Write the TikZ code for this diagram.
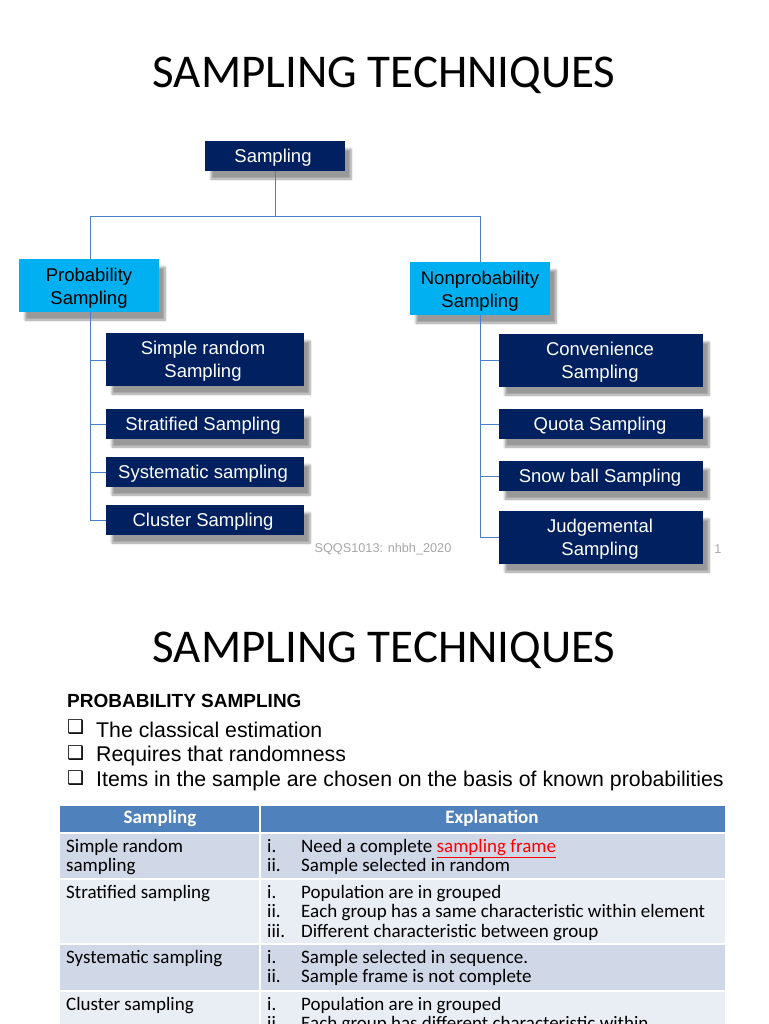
\documentclass[tikz,border=0pt]{standalone}
\usepackage{fontspec}
\setmainfont{Liberation Sans}
\newfontfamily\calfont{Carlito}
\newfontfamily\djfont{DejaVu Sans}
\usetikzlibrary{shadows.blur}
\definecolor{navy}{HTML}{002060}
\definecolor{cyanb}{HTML}{00B0F0}
\definecolor{lnk}{HTML}{4A7EC9}
\definecolor{hdr}{HTML}{4F81BD}
\definecolor{rowa}{HTML}{D0D8E8}
\definecolor{rowb}{HTML}{E9EDF4}
\tikzset{
 bx/.style={fill=navy,blur shadow={shadow xshift=6pt,shadow yshift=-8pt,shadow blur steps=8}},
 pbx/.style={bx,fill=cyanb},
 ln/.style={draw=lnk,line width=0.8pt},
 btxt/.style={align=center,font=\fontsize{18.5}{23}\selectfont,yshift=-2pt},
 cell/.style={font=\calfont\fontsize{19}{19.5}\selectfont,anchor=north west,align=left,inner sep=0pt,yshift=-3pt},
}
\begin{document}
\begin{tikzpicture}[x=1pt,y=-1pt]
\useasboundingbox (0,0) rectangle (768,1024);
\node[font=\calfont\fontsize{47}{47}\selectfont] (t1) at (384,75) {SAMPLING TECHNIQUES};
% boxes
\path[bx] (205,141) rectangle (345,171); \node[btxt,text=white] (s) at (273,156) {Sampling};
\path[pbx] (19,259) rectangle (159,312); \node[btxt] (p) at (89,286) {Probability\\Sampling};
\path[pbx] (410,262) rectangle (550,315); \node[btxt] (n) at (480,289) {Nonprobability\\Sampling};
\foreach \nm/\ya/\yb/\tx in {a/333/386/{Simple random\\Sampling},b/409/439/{Stratified Sampling},c/457/487/{Systematic sampling},d/505/535/{Cluster Sampling}}{
 \path[bx] (106,\ya) rectangle (304,\yb);
 \node[btxt,text=white] (\nm) at (203,{(\ya+\yb)/2}) {\tx};
}
\foreach \nm/\ya/\yb/\tx in {e/334/387/{Convenience\\Sampling},f/409/439/{Quota Sampling},g/461/491/{Snow ball Sampling},h/511/564/{Judgemental\\Sampling}}{
 \path[bx] (499,\ya) rectangle (703,\yb);
 \node[btxt,text=white] (\nm) at (600,{(\ya+\yb)/2}) {\tx};
}
\coordinate (j) at (275,216);
\draw[ln] (275,171) -- (j);
\draw[ln] (90,259) |- (480,216) -- (480,262);
\draw[ln] (90,312) -- (90,520);
\foreach \yy in {360,424,472,520} \draw[ln] (90,\yy) -- (106,\yy);
\draw[ln] (480,315) -- (480,537);
\foreach \yy in {360,424,476,537} \draw[ln] (480,\yy) -- (499,\yy);
\node[text=gray!70,font=\fontsize{12.7}{12.7}\selectfont] (ft) at (383,549) {SQQS1013: nhbh\_2020};
\node[text=gray!70,font=\fontsize{12.7}{12.7}\selectfont] (pg) at (718,549) {1};
% second slide
\node[font=\calfont\fontsize{47}{47}\selectfont] (t2) at (384,650) {SAMPLING TECHNIQUES};
\node[anchor=west,font=\bfseries\fontsize{19}{19}\selectfont,inner sep=0pt] (ps) at (67,701) {PROBABILITY SAMPLING};
\foreach \yy/\tx in {730/The classical estimation,756/Requires that randomness,781/Items in the sample are chosen on the basis of known probabilities}{
 \node[anchor=west,inner sep=0pt,font=\djfont\fontsize{19}{19}\selectfont] at (67,\yy-3) {❑};
 \node[anchor=west,inner sep=0pt,font=\fontsize{21.3}{21.3}\selectfont] at (96,\yy) {\tx};
}
% table
\fill[hdr] (60,806) rectangle (725,832);
\fill[rowa] (60,834) rectangle (725,878);
\fill[rowb] (60,880) rectangle (725,943);
\fill[rowa] (60,945) rectangle (725,990);
\fill[rowb] (60,992) rectangle (725,1024);
\draw[white,line width=1.5pt] (260,806) -- (260,1024);
\node[text=white,font=\calfont\bfseries\fontsize{19}{19}\selectfont] at (160,818) {Sampling};
\node[text=white,font=\calfont\bfseries\fontsize{19}{19}\selectfont] at (492,818) {Explanation};
\node[cell] at (66,836) {Simple random\\sampling};
\node[cell] at (66,882) {Stratified sampling};
\node[cell] at (66,947) {Systematic sampling};
\node[cell] at (66,994) {Cluster sampling};
\node[cell] at (267,836) {i.\\ii.};
\node[cell] at (301,836) {Need a complete \textcolor{red}{\underline{sampling frame}}\\Sample selected in random};
\node[cell] at (267,882) {i.\\ii.\\iii.};
\node[cell] at (301,882) {Population are in grouped\\Each group has a same characteristic within element\\Different characteristic between group};
\node[cell] at (267,947) {i.\\ii.};
\node[cell] at (301,947) {Sample selected in sequence.\\Sample frame is not complete};
\node[cell] at (267,994) {i.\\ii.};
\node[cell] at (301,994) {Population are in grouped\\Each group has different characteristic within};
\end{tikzpicture}
\end{document}
